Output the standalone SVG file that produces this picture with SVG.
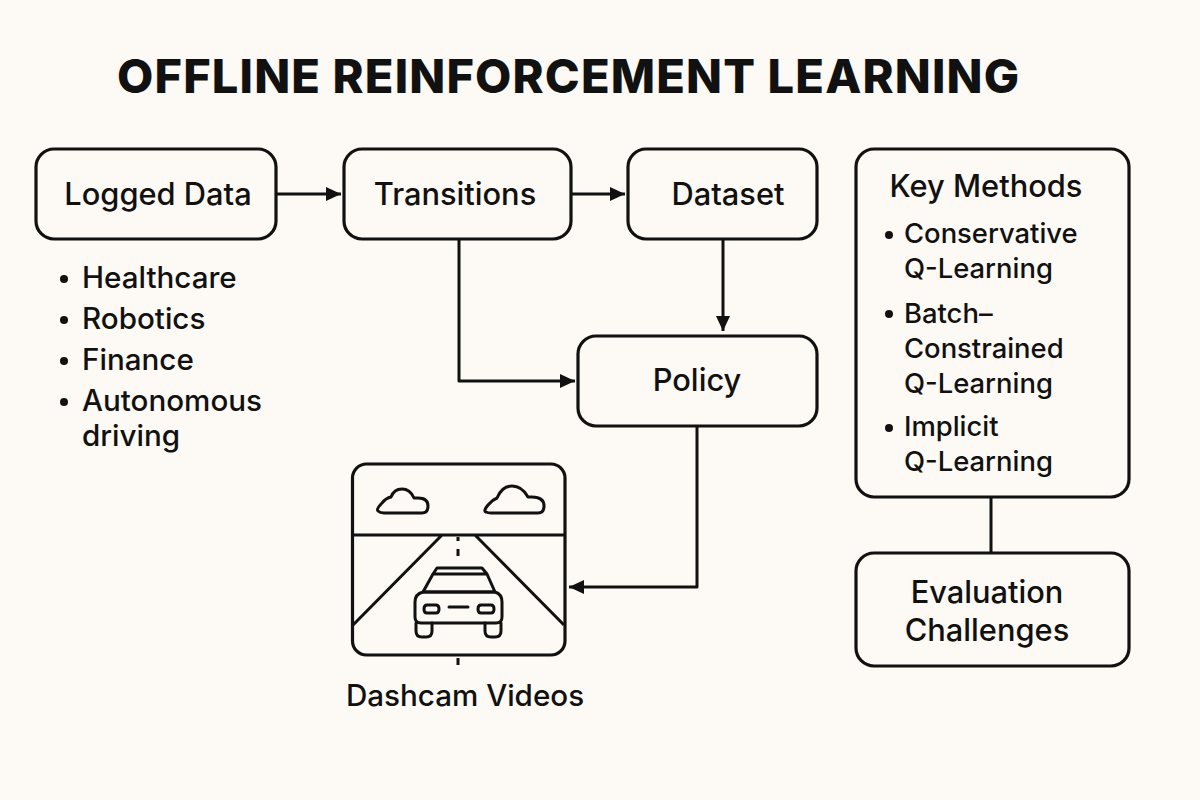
<svg xmlns="http://www.w3.org/2000/svg" width="1200" height="800" viewBox="0 0 1200 800">
<defs><marker id="a" markerUnits="userSpaceOnUse" markerWidth="16" markerHeight="14" refX="15" refY="7" orient="auto"><path d="M0 0L15 7L0 14Z" fill="#111"/></marker></defs>
<style>
.b{fill:#fdf9f4;stroke:#111;stroke-width:3.2}
.l{fill:none;stroke:#111;stroke-width:3;stroke-linejoin:round;stroke-linecap:round}
.c{stroke-linecap:butt}
text{font-family:"Inter","Liberation Sans",sans-serif;font-size:29.6px;font-weight:450;fill:#111}
.m{text-anchor:middle}
.s{font-size:27.4px}
.k{font-size:30.8px}
</style>
<rect width="1200" height="800" fill="#fdf9f4"/>
<text x="117" y="93" style="font-size:47px;font-weight:800" textLength="902" lengthAdjust="spacing">OFFLINE REINFORCEMENT LEARNING</text>
<g id="connectors">
<path class="l c" d="M276 194H341" marker-end="url(#a)"/>
<path class="l c" d="M571 194H625" marker-end="url(#a)"/>
<path class="l c" d="M723 239V331" marker-end="url(#a)"/>
<path class="l c" d="M459 239V381H575" marker-end="url(#a)"/>
<path class="l c" d="M697 426V587H569" marker-end="url(#a)"/>
<path class="l c" d="M991 497V553"/>
</g>
<g id="logged"><rect class="b" x="36" y="149" width="240" height="90" rx="18"/><text x="158" y="205" class="m k">Logged Data</text></g>
<g id="transitions"><rect class="b" x="344" y="149" width="227" height="90" rx="18"/><text x="455" y="205" class="m k">Transitions</text></g>
<g id="dataset"><rect class="b" x="628" y="149" width="189" height="90" rx="18"/><text x="728" y="205" class="m k">Dataset</text></g>
<g id="policy"><rect class="b" x="578" y="336" width="239" height="90" rx="18"/><text x="697" y="391" class="m k">Policy</text></g>
<g id="domains"><text x="82" y="288">Healthcare</text><text x="82" y="329">Robotics</text><text x="82" y="370">Finance</text><text x="82" y="411">Autonomous</text><text x="82" y="446">driving</text>
<circle cx="64" cy="279" r="4" fill="#111"/><circle cx="64" cy="320" r="4" fill="#111"/><circle cx="64" cy="361" r="4" fill="#111"/><circle cx="64" cy="402" r="4" fill="#111"/></g>
<g id="methods"><rect class="b" x="856" y="149" width="273" height="348" rx="18"/><text x="986" y="197" class="m k">Key Methods</text>
<text x="904" y="243" class="s">Conservative</text><text x="904" y="278" class="s">Q-Learning</text><text x="904" y="323" class="s">Batch–</text><text x="904" y="358" class="s">Constrained</text><text x="904" y="393" class="s">Q-Learning</text><text x="904" y="436" class="s">Implicit</text><text x="904" y="471" class="s">Q-Learning</text>
<circle cx="889" cy="235" r="4" fill="#111"/><circle cx="889" cy="314" r="4" fill="#111"/><circle cx="889" cy="428" r="4" fill="#111"/></g>
<g id="evaluation"><rect class="b" x="856" y="553" width="273" height="113" rx="18"/><text x="987" y="603" class="m k">Evaluation</text><text x="987" y="641" class="m k">Challenges</text></g>
<g id="dashcam"><rect class="b" x="352.500" y="464" width="212.500" height="191" rx="14"/>
<path class="l c" d="M353 535H565M442 535L353 625M475 535L564 625M458 537V541M458 549V556M458 658V665"/>
<path class="l" d="M384 513H422Q428 513 428 506Q428 498 418 498H414Q410 489 402 489Q394 489 391 497Q386 498 382 503Q376 509 378 511Q380 513 384 513Z"/>
<path class="l" d="M491 513H538Q544 513 544 506Q544 497 532 497H528Q522 486 512 486Q502 486 497 498Q492 500 488 505Q483 511 486 512Q488 513 491 513Z"/>
<path class="l" d="M433 574L437 568H482L487 574L495 592H423ZM433 574H487"/>
<path class="l" d="M423 592H495Q502 594 502 602V617Q502 623 496 623H421Q415 623 415 617V602Q415 594 423 592Z"/>
<path class="l" d="M427 605H436Q439 605 439 609T436 613H427Q424 613 424 609T427 605ZM481 605H491Q494 605 494 609T491 613H481Q478 613 478 609T481 605ZM449 607H468M416 623V631Q416 637 422 637H426Q432 637 432 631V623M485 623V631Q485 637 491 637H495Q501 637 501 631V623"/>
<text x="465" y="706" class="m">Dashcam Videos</text></g>
</svg>
